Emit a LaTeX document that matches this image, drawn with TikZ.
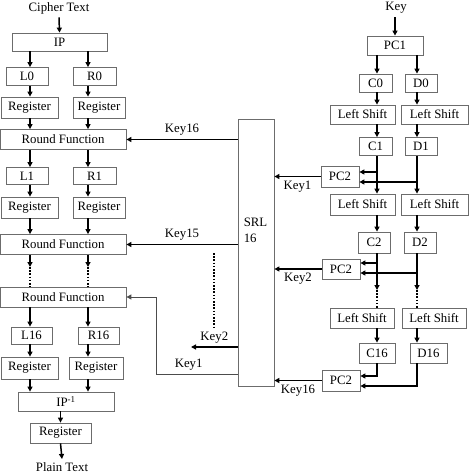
\documentclass[tikz,border=0pt]{standalone}
\usepackage{fontspec}
\setmainfont{Liberation Serif}
\usetikzlibrary{arrows.meta}

\begin{document}
\begin{tikzpicture}[x=1pt, y=-1pt, font=\fontsize{12.8}{14}\selectfont,
  box/.style={draw=gray!85!black, line width=0.8pt, inner sep=0pt, rectangle},
  arr/.style={draw, line width=1.5pt, -{Triangle[length=5pt,width=5pt]}},
  thinarr/.style={draw=gray!60!black, line width=1pt, -{Triangle[length=5pt,width=5pt]}},
  dots/.style={draw, line width=2.6pt, dash pattern=on 1.6pt off 1.6pt}]
  \useasboundingbox (0,0) rectangle (474,474);
  % columns for the vertical arrows
  \coordinate (cl) at (30,0);
  \coordinate (cr) at (88,0);
  \coordinate (cc) at (377,0);
  \coordinate (cd) at (417,0);
  % data path
  \node (ct) at (59,8) {Cipher Text};
  \node [box,minimum width=95pt,minimum height=18pt] (ip) at (59.5,42) {IP};
  \node [box,minimum width=42pt,minimum height=18pt] (l0) at (27,76.5) {L0};
  \node [box,minimum width=43pt,minimum height=18pt] (r0) at (94.5,76.5) {R0};
  \node [box,minimum width=57pt,minimum height=21pt] (regl1) at (29.5,107.5) {Register};
  \node [box,minimum width=52pt,minimum height=21pt] (regr1) at (99,107.5) {Register};
  \node [box,minimum width=126pt,minimum height=20pt] (rf1) at (63,139.5) {Round Function};
  \node [box,minimum width=42pt,minimum height=17pt] (l1) at (27,176) {L1};
  \node [box,minimum width=43pt,minimum height=17pt] (r1) at (94.5,176) {R1};
  \node [box,minimum width=57pt,minimum height=21pt] (regl2) at (29.5,207.5) {Register};
  \node [box,minimum width=52pt,minimum height=21pt] (regr2) at (99,207.5) {Register};
  \node [box,minimum width=126pt,minimum height=20pt] (rf2) at (63,244.5) {Round Function};
  \node [box,minimum width=126pt,minimum height=20pt] (rf3) at (63,297) {Round Function};
  \node [box,minimum width=41pt,minimum height=17pt] (l16) at (31.5,335.5) {L16};
  \node [box,minimum width=41pt,minimum height=17pt] (r16) at (98.5,335.5) {R16};
  \node [box,minimum width=57pt,minimum height=22pt] (regl3) at (29.5,368) {Register};
  \node [box,minimum width=54pt,minimum height=22pt] (regr3) at (96,368) {Register};
  \node [box,minimum width=96pt,minimum height=19pt] (ipi) at (66,401.5) {IP\textsuperscript{-1}};
  \node [box,minimum width=61pt,minimum height=20pt] (regf) at (60.5,433) {Register};
  \node (pt) at (62,467) {Plain Text};
  \draw[arr] (ct.south) -- (ip.north);
  \draw[arr] (ip.south -| cl) -- (l0.north -| cl);
  \draw[arr] (ip.south -| cr) -- (r0.north -| cr);
  \draw[arr] (l0.south -| cl) -- (regl1.north -| cl);
  \draw[arr] (r0.south -| cr) -- (regr1.north -| cr);
  \draw[arr] (regl1.south -| cl) -- (rf1.north -| cl);
  \draw[arr] (regr1.south -| cr) -- (rf1.north -| cr);
  \draw[arr] (rf1.south -| cl) -- (l1.north -| cl);
  \draw[arr] (rf1.south -| cr) -- (r1.north -| cr);
  \draw[arr] (l1.south -| cl) -- (regl2.north -| cl);
  \draw[arr] (r1.south -| cr) -- (regr2.north -| cr);
  \draw[arr] (regl2.south -| cl) -- (rf2.north -| cl);
  \draw[arr] (regr2.south -| cr) -- (rf2.north -| cr);
  % rounds left out
  \coordinate (gapl) at (30,267);
  \coordinate (gapr) at (88,267);
  \draw[arr] (rf2.south -| gapl) -- (gapl);
  \draw[arr] (rf2.south -| gapr) -- (gapr);
  \draw[dots] (gapl) -- (rf3.north -| gapl);
  \draw[dots] (gapr) -- (rf3.north -| gapr);
  \draw[arr] (rf3.south -| cl) -- (l16.north -| cl);
  \draw[arr] (rf3.south -| cr) -- (r16.north -| cr);
  \draw[arr] (l16.south -| cl) -- (regl3.north -| cl);
  \draw[arr] (r16.south -| cr) -- (regr3.north -| cr);
  \draw[arr] (regl3.south -| cl) -- (ipi.north -| cl);
  \draw[arr] (regr3.south -| cr) -- (ipi.north -| cr);
  \draw[arr] (ipi.south -| regf.north) -- (regf.north);
  \draw[arr] (regf.south) -- (pt.north);
  % key schedule
  \node (key) at (396,8) {Key};
  \node [box,minimum width=56pt,minimum height=19pt] (pc1) at (395,45.5) {PC1};
  \node [box,minimum width=33pt,minimum height=18pt] (c0) at (375.5,83) {C0};
  \node [box,minimum width=32pt,minimum height=18pt] (d0) at (421,83) {D0};
  \node [box,minimum width=65pt,minimum height=19pt] (lsl1) at (362.5,114.5) {Left Shift};
  \node [box,minimum width=67pt,minimum height=19pt] (lsr1) at (434.5,114.5) {Left Shift};
  \node [box,minimum width=33pt,minimum height=18pt] (c1) at (375.5,146.5) {C1};
  \node [box,minimum width=32pt,minimum height=18pt] (d1) at (421,146.5) {D1};
  \node [box,minimum width=38pt,minimum height=21pt] (pc2a) at (340,176.5) {PC2};
  \node [box,minimum width=65pt,minimum height=21pt] (lsl2) at (362.5,204.5) {Left Shift};
  \node [box,minimum width=67pt,minimum height=21pt] (lsr2) at (434.5,204.5) {Left Shift};
  \node [box,minimum width=32pt,minimum height=21pt] (c2) at (374,242.5) {C2};
  \node [box,minimum width=32pt,minimum height=21pt] (d2) at (420,242.5) {D2};
  \node [box,minimum width=38pt,minimum height=20pt] (pc2b) at (341,269) {PC2};
  \node [box,minimum width=64pt,minimum height=20pt] (lsl3) at (362,318) {Left Shift};
  \node [box,minimum width=64pt,minimum height=20pt] (lsr3) at (434,318) {Left Shift};
  \node [box,minimum width=36pt,minimum height=20pt] (c16) at (377,353) {C16};
  \node [box,minimum width=37pt,minimum height=20pt] (d16) at (428.5,353) {D16};
  \node [box,minimum width=38pt,minimum height=21pt] (pc2c) at (341,380.5) {PC2};
  \draw[arr] (key.south -| pc1.north) -- (pc1.north);
  \draw[arr] (pc1.south -| cc) -- (c0.north -| cc);
  \draw[arr] (pc1.south -| cd) -- (d0.north -| cd);
  \draw[arr] (c0.south -| cc) -- (lsl1.north -| cc);
  \draw[arr] (d0.south -| cd) -- (lsr1.north -| cd);
  \draw[arr] (lsl1.south -| cc) -- (c1.north -| cc);
  \draw[arr] (lsr1.south -| cd) -- (d1.north -| cd);
  \draw[arr] (c1.south -| cc) -- (lsl2.north -| cc);
  \draw[arr] (d1.south -| cd) -- (lsr2.north -| cd);
  \draw[arr] ([yshift=4.5pt]pc2a.east -| cc) -- ([yshift=4.5pt]pc2a.east);
  \draw[arr] ([yshift=-5.5pt]pc2a.east -| cd) -- ([yshift=-5.5pt]pc2a.east);
  \draw[arr] (lsl2.south -| cc) -- (c2.north -| cc);
  \draw[arr] (lsr2.south -| cd) -- (d2.north -| cd);
  \coordinate (gapc) at (377,290);
  \coordinate (gapd) at (417,290);
  \draw[arr] (c2.south -| gapc) -- (gapc);
  \draw[arr] (d2.south -| gapd) -- (gapd);
  \draw[dots] (gapc) -- (lsl3.north -| gapc);
  \draw[dots] (gapd) -- (lsr3.north -| gapd);
  \draw[arr] ([yshift=6pt]pc2b.east -| cc) -- ([yshift=6pt]pc2b.east);
  \draw[arr] ([yshift=-4pt]pc2b.east -| cd) -- ([yshift=-4pt]pc2b.east);
  \draw[arr] (lsl3.south -| cc) -- (c16.north -| cc);
  \draw[arr] (lsr3.south -| cd) -- (d16.north -| cd);
  \draw[arr] (c16.south -| cc) |- ([yshift=4.5pt]pc2c.east);
  \draw[arr] (d16.south -| cd) |- ([yshift=-5.5pt]pc2c.east);
  % round keys
  \node [box,minimum width=36pt,minimum height=267pt] (srl) at (256,252.5) {};
  \node [align=left,font=\fontsize{12.8}{16}\selectfont] (srltext) at (255.5,230) {SRL\\16};
  \draw[arr] (pc2a.west) -- (srl.east |- pc2a.west) node[midway,below] {Key1};
  \draw[arr] (pc2b.west) -- (srl.east |- pc2b.west) node[midway,below] {Key2};
  \draw[arr] (pc2c.west) -- (srl.east |- pc2c.west) node[midway,below] {Key16};
  \draw[arr] (srl.west |- rf1.east) -- (rf1.east) node[midway,above] {Key16};
  \draw[arr] (srl.west |- rf2.east) -- (rf2.east) node[midway,above] {Key15};
  \coordinate (dota) at (214,253);
  \coordinate (dotb) at (214,327);
  \draw[dots] (dota) -- (dotb);
  \coordinate (k2end) at (191,347);
  \draw[arr] (srl.west |- k2end) -- (k2end) node[midway,above] {Key2};
  \coordinate (k1turn) at (156,374);
  \draw[thinarr] (srl.west |- k1turn) -- node[pos=0.6,above] {Key1} (k1turn) |- (rf3.east);
\end{tikzpicture}
\end{document}
